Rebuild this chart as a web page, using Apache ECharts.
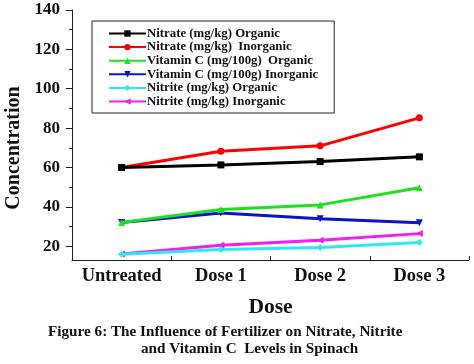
<!DOCTYPE html>
<html>
<head>
<meta charset="utf-8">
<script src="https://cdn.jsdelivr.net/npm/echarts@6/dist/echarts.min.js"></script>
<style>
html,body{margin:0;padding:0;background:#fff;}
#chart{width:474px;height:364px;}
</style>
</head>
<body>
<div id="chart"></div>
<script>
const categories = ['Untreated', 'Dose 1', 'Dose 2', 'Dose 3'];
const nitrateOrganic = [60, 61.3, 63, 65.4];
const nitrateInorganic = [60, 68.2, 71, 85.2];
const vitCOrganic = [32.1, 38.7, 41, 49.7];
const vitCInorganic = [32, 36.9, 33.9, 31.9];
const nitriteOrganic = [15.9, 18.3, 19.3, 21.9];
const nitriteInorganic = [16, 20.5, 23, 26.4];
const yMajorTicks = [20, 40, 60, 80, 100, 120, 140];
const yMinorTicks = [30, 50, 70, 90, 110, 130];
const seriesNames = [
  'Nitrate (mg/kg) Organic',
  'Nitrate (mg/kg)  Inorganic',
  'Vitamin C (mg/100g)  Organic',
  'Vitamin C (mg/100g) Inorganic',
  'Nitrite (mg/kg) Organic',
  'Nitrite (mg/kg) Inorganic'
];
const xTitle = 'Dose';
const yTitle = 'Concentration';
const captionLine1 = 'Figure 6: The Influence of Fertilizer on Nitrate, Nitrite';
const captionLine2 = 'and Vitamin C  Levels in Spinach';

const FONT = '"Liberation Serif", "Times New Roman", serif';
const colors = ['#000000', '#ff0000', '#1ee01e', '#0a14c8', '#2ee8f0', '#f01ef0'];
const symbols = ['rect', 'circle', 'triangle', 'triangle', 'diamond', 'triangle'];
const rotations = [0, 0, 0, 180, 0, 90];
const dataSets = [nitrateOrganic, nitrateInorganic, vitCOrganic, vitCInorganic, nitriteOrganic, nitriteInorganic];

const chart = echarts.init(document.getElementById('chart'), null, {renderer: 'canvas'});

const series = dataSets.map((d, i) => ({
  name: seriesNames[i],
  type: 'line',
  data: d,
  xAxisIndex: 0,
  yAxisIndex: 0,
  symbol: symbols[i],
  symbolRotate: rotations[i],
  symbolSize: 7,
  showAllSymbol: true,
  lineStyle: {color: colors[i], width: 3},
  itemStyle: {color: colors[i]},
  z: 10 - i
}));

chart.setOption({
  animation: false,
  backgroundColor: '#ffffff',
  grid: {left: 72, right: 5, top: 10, bottom: 104},
  legend: {
    orient: 'vertical',
    left: 92,
    top: 21,
    padding: [6, 16, 5, 16],
    borderColor: '#222',
    borderWidth: 1,
    backgroundColor: '#fff',
    itemWidth: 37,
    itemHeight: 8,
    itemGap: 0.6,
    textStyle: {fontFamily: FONT, fontWeight: 'bold', fontSize: 12.8, color: '#111', padding: [0, 0, 0, -4]},
    data: seriesNames
  },
  xAxis: [
    {
      type: 'category',
      data: categories,
      boundaryGap: true,
      axisLine: {lineStyle: {color: '#222', width: 1}},
      axisTick: {alignWithLabel: true, inside: false, length: 4, lineStyle: {color: '#222'}},
      axisLabel: {interval: 0, hideOverlap: false, fontFamily: FONT, fontWeight: 'bold', fontSize: 18.5, color: '#111', margin: 7},
      name: xTitle,
      nameLocation: 'middle',
      nameGap: 36,
      nameTextStyle: {fontFamily: FONT, fontWeight: 'bold', fontSize: 21.5, color: '#111'}
    },
    {
      type: 'category',
      data: categories,
      boundaryGap: true,
      position: 'bottom',
      axisLine: {show: false},
      axisTick: {show: true, inside: true, length: 4, lineStyle: {color: '#222'}},
      axisLabel: {show: false}
    }
  ],
  yAxis: [
    {
      type: 'value',
      min: 13,
      max: 140,
      splitLine: {show: false},
      axisLine: {show: true, lineStyle: {color: '#222', width: 1}},
      axisTick: {show: true, length: 6, customValues: yMajorTicks, lineStyle: {color: '#222'}},
      axisLabel: {customValues: yMajorTicks, fontFamily: FONT, fontWeight: 'bold', fontSize: 17, color: '#111', margin: 12}
    },
    {
      type: 'value',
      min: 13,
      max: 140,
      position: 'left',
      offset: 0,
      splitLine: {show: false},
      axisLine: {show: false},
      axisTick: {show: true, length: 3, customValues: yMinorTicks, lineStyle: {color: '#222'}},
      axisLabel: {show: false, customValues: yMinorTicks}
    }
  ],
  graphic: [
    {
      type: 'text',
      x: 14,
      y: 148,
      rotation: Math.PI / 2,
      style: {text: yTitle, fontFamily: FONT, fontWeight: 'bold', fontSize: 20, fill: '#111', align: 'center', verticalAlign: 'middle'}
    },
    {
      type: 'text',
      left: 48,
      top: 325,
      style: {text: captionLine1, fontFamily: FONT, fontWeight: 'bold', fontSize: 15.2, fill: '#111'}
    },
    {
      type: 'text',
      left: 141,
      top: 342,
      style: {text: captionLine2, fontFamily: FONT, fontWeight: 'bold', fontSize: 15.2, fill: '#111'}
    }
  ],
  series: series
});
</script>
</body>
</html>
